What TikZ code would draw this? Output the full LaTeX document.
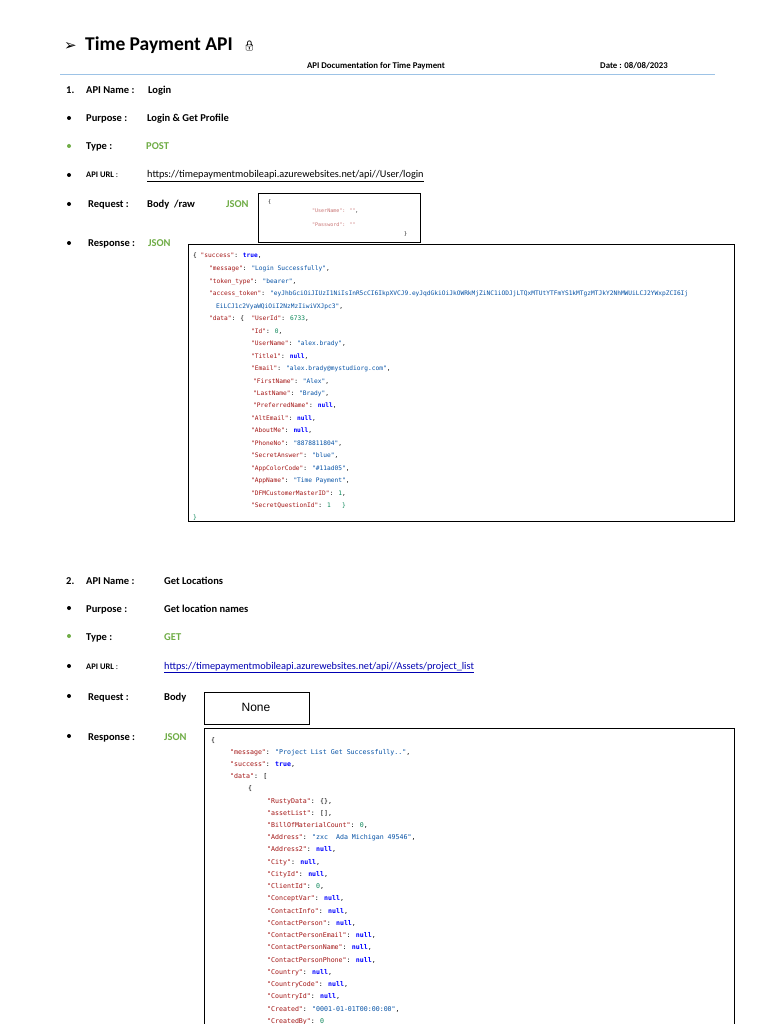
\documentclass[tikz,border=0pt]{standalone}
\usepackage{fontspec}
\setmainfont{Carlito}
\newfontfamily\codefont{DejaVu Sans Mono}
\newfontfamily\symfont{DejaVu Sans}
\newfontfamily\emojifont{Noto Emoji}
\newfontfamily\lsans{Liberation Sans}
\definecolor{keyc}{HTML}{A31515}
\definecolor{strc}{HTML}{0451A5}
\definecolor{kwc}{HTML}{0000FF}
\definecolor{numc}{HTML}{098658}
\definecolor{okgreen}{HTML}{70AD47}
\definecolor{rulec}{HTML}{9DC3E6}
\newcommand\K[1]{\textcolor{keyc}{"#1"}: }
\newcommand\SV[1]{\textcolor{strc}{"#1"}}
\newcommand\KW[1]{\textcolor{kwc}{\bfseries #1}}
\newcommand\NV[1]{\textcolor{numc}{#1}}
\tikzset{
 lbl/.style={anchor=base west,inner sep=0pt,font=\bfseries\fontsize{10.5}{12}\selectfont},
 val/.style={anchor=base west,inner sep=0pt,font=\bfseries\fontsize{10.5}{12}\selectfont},
 grn/.style={val,text=okgreen},
 urlf/.style={anchor=base west,inner sep=0pt,font=\fontsize{10.3}{12}\selectfont},
 code/.style={anchor=base west,inner sep=0pt,font=\codefont\fontsize{6.2}{7}\selectfont},
 codeb/.style={anchor=base west,inner sep=0pt,font=\codefont\fontsize{6.6}{7}\selectfont},
 bul/.style={circle,fill=black,inner sep=0pt,minimum size=4pt},
 box/.style={draw=black,line width=0.8pt}
}
\begin{document}
\begin{tikzpicture}[x=1pt,y=-1pt]
\useasboundingbox[fill=white] (0,0) rectangle (768,1024);
% title
\node[anchor=base west,inner sep=0pt,font=\symfont\fontsize{15}{18}\selectfont] (arr) at (64,51) {➢};
\node[anchor=base west,inner sep=0pt,font=\bfseries\fontsize{19.5}{22}\selectfont] (title) at (85,51) {Time Payment API};
\node[anchor=base west,inner sep=0pt,font=\emojifont\fontsize{10}{12}\selectfont] (lock) at (243,50) {🔒};
\node[anchor=base,inner sep=0pt,font=\bfseries\fontsize{8.8}{10}\selectfont] (hdr) at (376,69) {API Documentation for Time Payment};
\node[anchor=base west,inner sep=0pt,font=\bfseries\fontsize{8.8}{10}\selectfont] (date) at (600,69) {Date : 08/08/2023};
\coordinate (rl) at (60,74); \coordinate (rr) at (715,74);
\draw[rulec,line width=0.9pt] (rl) -- (rr);
% section 1
\node[lbl] (n1) at (66,94) {1.};
\node[lbl] (an1) at (86,94) {API Name :};
\node[val] (av1) at (148,94) {Login};
\node[bul] (b1) at (69,118) {};
\node[lbl] (pu1) at (86,122) {Purpose :};
\node[val] (pv1) at (147,122) {Login \& Get Profile};
\node[bul,fill=okgreen] (b2) at (69,146) {};
\node[lbl] (ty1) at (86,150) {Type :};
\node[grn] (tv1) at (146,150) {POST};
\node[bul] (b3) at (69,175) {};
\node[lbl,font=\bfseries\fontsize{8.5}{10}\selectfont] (ur1) at (86,178) {API URL \mdseries:};
\node[urlf] (uv1) at (147,178) {\underline{https://timepaymentmobileapi.azurewebsites.net/api//User/login}};
\node[bul] (b4) at (69,204) {};
\node[lbl] (rq1) at (88,208) {Request :};
\node[val] (rv1) at (147,208) {Body \ /raw};
\node[grn] (rj1) at (226,208) {JSON};
\draw[box] (258,193) rectangle (420,242);
\node[code,font=\codefont\fontsize{5}{6}\selectfont] (q1) at (268,204) {\{};
\node[code,font=\codefont\fontsize{5}{6}\selectfont] (q2) at (312,213) {\textcolor{keyc!60}{"UserName": ""},};
\node[code,font=\codefont\fontsize{5}{6}\selectfont] (q3) at (312,226) {\textcolor{keyc!60}{"Password": ""}};
\node[code,font=\codefont\fontsize{5}{6}\selectfont] (q4) at (404,236) {\}};
\node[bul] (b5) at (69,243) {};
\node[lbl] (rs1) at (88,247) {Response :};
\node[grn] (rsj1) at (148,247) {JSON};
\draw[box] (188,244) rectangle (734,521);
\node[code] (c1) at (193,258) {\{ \K{success}\KW{true},};
\node[code] (c2) at (209,270) {\K{message}\SV{Login Successfully},};
\node[code] (c3) at (209,283) {\K{token\_type}\SV{bearer},};
\node[code] (c4) at (209,295) {\K{access\_token}\textcolor{strc}{"eyJhbGciOiJIUzI1NiIsInR5cCI6IkpXVCJ9.eyJqdGkiOiJkOWRkMjZiNC1iODJjLTQxMTUtYTFmYS1kMTgzMTJkY2NhMWUiLCJ2YWxpZCI6Ij}};
\node[code] (c5) at (216,308) {\textcolor{strc}{EiLCJ1c2VyaWQiOiI2NzMzIiwiVXJpc3"},};
\node[code] (c6) at (209,320) {\K{data}\{ \ \K{UserId}\NV{6733},};
\node[code] (c7) at (251,333) {\K{Id}\NV{0},};
\node[code] (c8) at (251,345) {\K{UserName}\SV{alex.brady},};
\node[code] (c9) at (251,358) {\K{Title1}\KW{null},};
\node[code] (c10) at (251,370) {\K{Email}\SV{alex.brady@mystudiorg.com},};
\node[code] (c11) at (253,383) {\K{FirstName}\SV{Alex},};
\node[code] (c12) at (253,395) {\K{LastName}\SV{Brady},};
\node[code] (c13) at (253,407) {\K{PreferredName}\KW{null},};
\node[code] (c14) at (251,420) {\K{AltEmail}\KW{null},};
\node[code] (c15) at (251,432) {\K{AboutMe}\KW{null},};
\node[code] (c16) at (251,445) {\K{PhoneNo}\SV{8878811804},};
\node[code] (c17) at (251,457) {\K{SecretAnswer}\SV{blue},};
\node[code] (c18) at (251,470) {\K{AppColorCode}\SV{\#11ad05},};
\node[code] (c19) at (251,482) {\K{AppName}\SV{Time Payment},};
\node[code] (c20) at (251,495) {\K{DFMCustomerMasterID}\NV{1},};
\node[code] (c21) at (251,507) {\K{SecretQuestionId}\NV{1} \ \ \textcolor{numc}{\}}};
\node[code] (c22) at (193,519) {\textcolor{numc}{\}}};
% section 2
\node[lbl] (n2) at (66,584) {2.};
\node[lbl] (an2) at (86,584) {API Name :};
\node[val] (av2) at (164,584) {Get Locations};
\node[bul] (b6) at (69,608) {};
\node[lbl] (pu2) at (86,612) {Purpose :};
\node[val] (pv2) at (164,612) {Get location names};
\node[bul,fill=okgreen] (b7) at (69,636) {};
\node[lbl] (ty2) at (86,640) {Type :};
\node[grn] (tv2) at (164,640) {GET};
\node[bul] (b8) at (69,666) {};
\node[lbl,font=\bfseries\fontsize{8.5}{10}\selectfont] (ur2) at (86,669) {API URL \mdseries:};
\node[urlf,text=blue!70!black] (uv2) at (164,669) {\underline{https://timepaymentmobileapi.azurewebsites.net/api//Assets/project\_list}};
\node[bul] (b9) at (69,696) {};
\node[lbl] (rq2) at (88,700) {Request :};
\node[val] (rv2) at (164,700) {Body};
\draw[box] (204,692) rectangle (309,724);
\node[inner sep=0pt,font=\lsans\fontsize{12}{14}\selectfont] (none) at (256,707) {None};
\node[bul] (b10) at (69,736) {};
\node[lbl] (rs2) at (88,740) {Response :};
\node[grn] (rsj2) at (164,740) {JSON};
\draw[box] (204,728) -- (734,728) -- (734,1030);
\draw[box] (204,728) -- (204,1030);
\node[codeb] (d1) at (211,742) {\{};
\node[codeb] (d2) at (230,754) {\K{message}\SV{Project List Get Successfully..},};
\node[codeb] (d3) at (230,766) {\K{success}\KW{true},};
\node[codeb] (d4) at (230,778) {\K{data}[};
\node[codeb] (d5) at (248,790) {\{};
\node[codeb] (d6) at (267,803) {\K{RustyData}\{\},};
\node[codeb] (d7) at (267,815) {\K{assetList}[],};
\node[codeb] (d8) at (267,827) {\K{BillOfMaterialCount}\NV{0},};
\node[codeb] (d9) at (267,839) {\K{Address}\SV{zxc \ Ada Michigan 49546},};
\node[codeb] (d10) at (267,851) {\K{Address2}\KW{null},};
\node[codeb] (d11) at (267,864) {\K{City}\KW{null},};
\node[codeb] (d12) at (267,876) {\K{CityId}\KW{null},};
\node[codeb] (d13) at (267,888) {\K{ClientId}\NV{0},};
\node[codeb] (d14) at (267,900) {\K{ConceptVar}\KW{null},};
\node[codeb] (d15) at (267,913) {\K{ContactInfo}\KW{null},};
\node[codeb] (d16) at (267,925) {\K{ContactPerson}\KW{null},};
\node[codeb] (d17) at (267,937) {\K{ContactPersonEmail}\KW{null},};
\node[codeb] (d18) at (267,949) {\K{ContactPersonName}\KW{null},};
\node[codeb] (d19) at (267,962) {\K{ContactPersonPhone}\KW{null},};
\node[codeb] (d20) at (267,974) {\K{Country}\KW{null},};
\node[codeb] (d21) at (267,986) {\K{CountryCode}\KW{null},};
\node[codeb] (d22) at (267,998) {\K{CountryId}\KW{null},};
\node[codeb] (d23) at (267,1011) {\K{Created}\SV{0001-01-01T00:00:00},};
\node[codeb] (d24) at (267,1023) {\K{CreatedBy}\NV{0}};
\end{tikzpicture}
\end{document}
